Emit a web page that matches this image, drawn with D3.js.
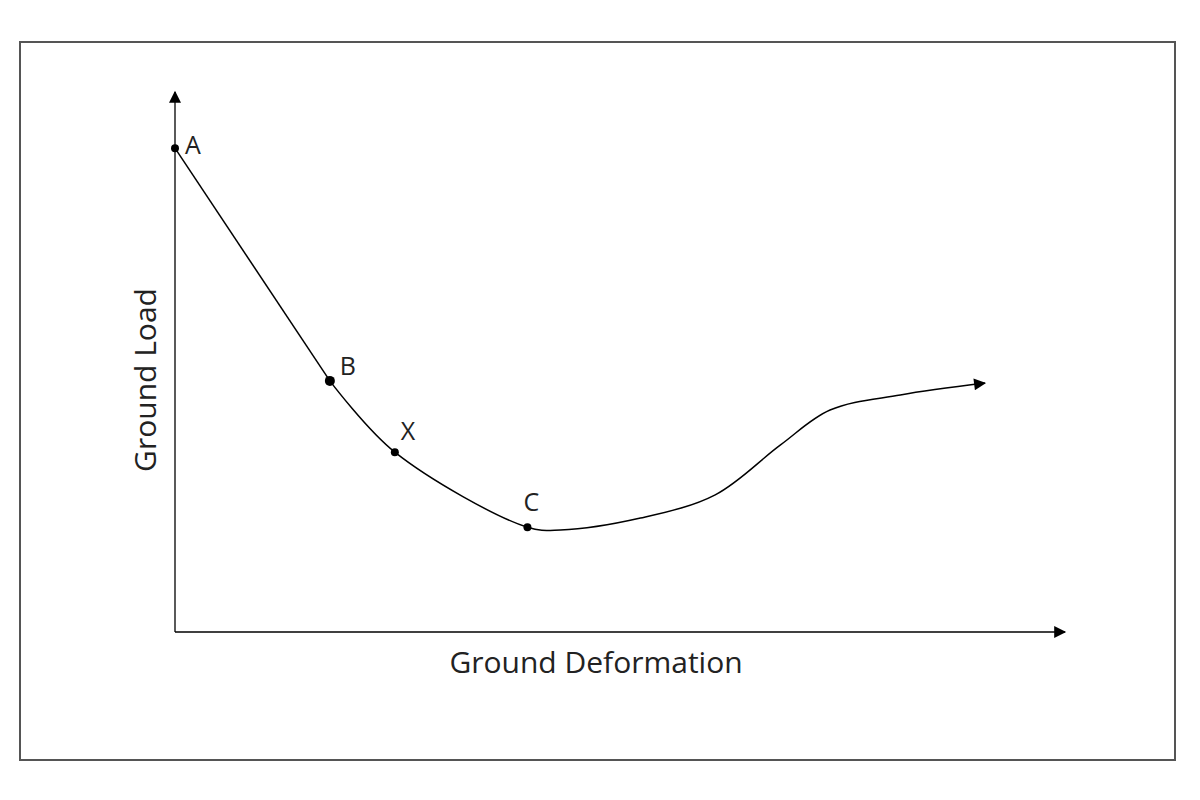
<!DOCTYPE html>
<html><head><meta charset="utf-8">
<script src="https://cdn.jsdelivr.net/npm/d3@7"></script>
<style>body{margin:0;background:#fff}</style></head>
<body><svg id="c" width="1200" height="800"></svg>
<script>
const curveX = [0, 17.4, 24.7, 39.6, 43.3, 52.3, 60.7, 68, 73.6, 81.5, 91];
const curveY = [89.6, 46.5, 33.3, 19.4, 18.9, 21.1, 25.4, 34.6, 41.1, 43.9, 46.1];
const pointLabels = ["A", "B", "X", "C"];
const pointX = [0, 17.4, 24.7, 39.6];
const pointY = [89.6, 46.5, 33.3, 19.4];
const xTitle = "Ground Deformation", yTitle = "Ground Load";

const svg = d3.select("#c");
const x = d3.scaleLinear().domain([0,100]).range([175,1065]);
const y = d3.scaleLinear().domain([0,100]).range([632,92]);
const font = "'Open Sans', sans-serif";

svg.append("rect").attr("x",20).attr("y",42).attr("width",1155).attr("height",718)
  .attr("fill","none").attr("stroke","#555").attr("stroke-width",2);

const defs = svg.append("defs");
defs.append("marker").attr("id","ar").attr("viewBox","0 0 10 10").attr("refX",9).attr("refY",5)
  .attr("markerWidth",16).attr("markerHeight",12).attr("markerUnits","userSpaceOnUse").attr("orient","auto")
  .append("path").attr("d","M0,0L10,5L0,10Z").attr("fill","#000");

svg.append("line").attr("x1",x(0)).attr("y1",y(0)).attr("x2",x(100)).attr("y2",y(0))
  .attr("stroke","#000").attr("stroke-width",1.3).attr("marker-end","url(#ar)");
svg.append("line").attr("x1",x(0)).attr("y1",y(0)).attr("x2",x(0)).attr("y2",y(100))
  .attr("stroke","#000").attr("stroke-width",1.3).attr("marker-end","url(#ar)");

const pts = curveX.map((d,i)=>[d,curveY[i]]);
const line = d3.line().x(d=>x(d[0])).y(d=>y(d[1]));
// straight segment A-B, smooth curve after
svg.append("path").datum(pts.slice(0,2)).attr("fill","none").attr("stroke","#000").attr("stroke-width",1.5)
  .attr("d", line.curve(d3.curveLinear));
svg.append("path").datum(pts.slice(1)).attr("fill","none").attr("stroke","#000").attr("stroke-width",1.5)
  .attr("marker-end","url(#ar)")
  .attr("d", line.curve(d3.curveCatmullRom.alpha(0.5)));

const off = [[10,6],[10,-6],[6,-12],[-4,-16]];
pointLabels.forEach((l,i)=>{
  svg.append("circle").attr("cx",x(pointX[i])).attr("cy",y(pointY[i])).attr("r",i==1?5:4).attr("fill","#000");
  svg.append("text").attr("x",x(pointX[i])+off[i][0]).attr("y",y(pointY[i])+off[i][1])
    .attr("font-family",font).attr("font-size",25).attr("fill","#222").text(l);
});

svg.append("text").attr("x",596).attr("y",673).attr("text-anchor","middle")
  .attr("font-family",font).attr("font-size",30).attr("fill","#222").text(xTitle);
svg.append("text").attr("transform","translate(156,380) rotate(-90)").attr("text-anchor","middle")
  .attr("font-family",font).attr("font-size",30).attr("fill","#222").text(yTitle);
</script></body></html>
